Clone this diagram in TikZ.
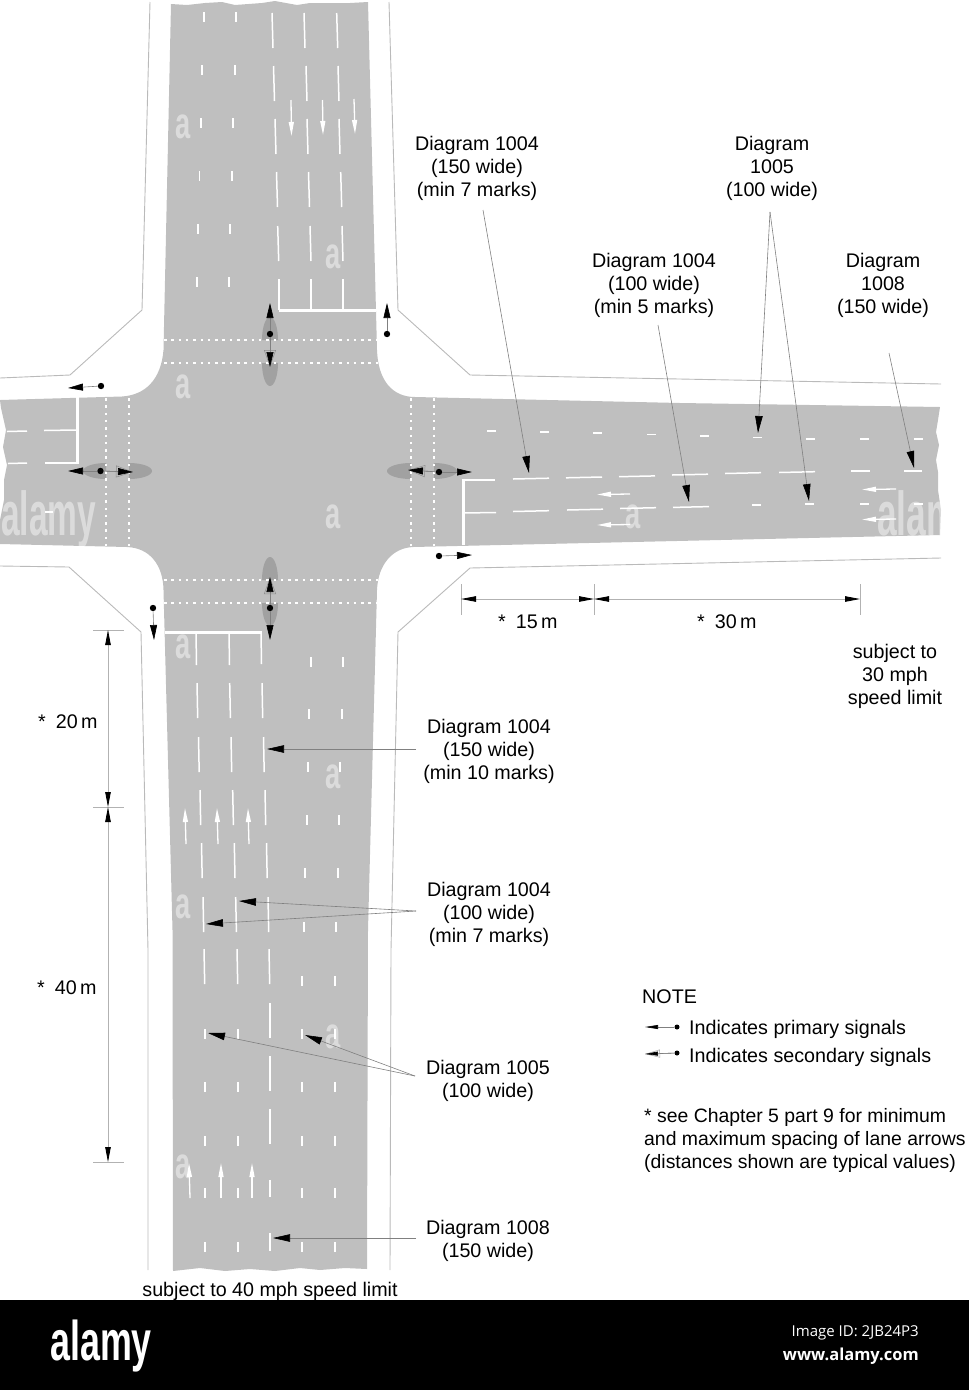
\documentclass[tikz,border=0pt]{standalone}
\usepackage{fontspec}
\setmainfont{Liberation Sans}
\newfontfamily\bandfont{Open Sans}
\usetikzlibrary{arrows.meta}

\newcommand{\ghostword}[3]{\scalebox{#2}[1]{\fontsize{#1}{#1}\selectfont\bfseries #3}}

\begin{document}
\begin{tikzpicture}[x=1pt,y=-1pt,
		every node/.style={inner sep=0pt,font=\fontsize{19.7}{23}\selectfont,align=center},
		road/.style={fill=black!25},
		island/.style={fill=black!37},
		kerb/.style={draw=black!27,line width=0.9pt},
		stopline/.style={draw=white,line width=3pt},
		lane/.style={draw=white,line width=1.5pt},
		lane short/.style={draw=white,line width=1.2pt},
		crossing/.style={draw=white,line width=2.5pt,dash pattern=on 2.5pt off 4.8pt},
		lane arrow/.style={draw=white,line width=1.3pt,-{Triangle[white,length=14pt,width=5pt]}},
		ghost/.style={text=white,text opacity=0.45},
		sigdot/.style={circle,fill=black,minimum size=6.4pt},
		signal/.style={draw=black!50,line width=0.6pt,-{Triangle[black,length=15pt,width=7pt]}},
		secondary/.style={signal,preaction={draw=black!50,line width=0.6pt,-{Triangle[open,black!45,line width=0.5pt,length=17pt,width=12pt]}}},
		key signal/.style={draw=black!50,line width=0.6pt,-{Triangle[black,length=13pt,width=4pt]}},
		key secondary/.style={key signal,preaction={draw=black!50,line width=0.6pt,-{Triangle[open,black!35,line width=0.5pt,length=15pt,width=8pt]}}},
		leader/.style={draw=black!50,line width=0.6pt,-{Triangle[black,length=17pt,width=7.5pt]}},
		dimline/.style={draw=black!30,line width=0.8pt,{Triangle[black,length=15pt,width=5.5pt]}-{Triangle[black,length=15pt,width=5.5pt]}},
		dimend/.style={draw=black!30,line width=0.7pt}]
	\useasboundingbox (0,0) rectangle (969,1390);

	% road surface with torn ends
	\path[road] (171,4) -- (187,5) -- (205,3) -- (222,2) -- (235,5) -- (262,3) -- (275,1) -- (297,5) -- (310,3) -- (350,3) -- (368,2)
		-- (377,350) .. controls (378,380) and (392,397) .. (415,397)
		-- (680,403) -- (940,407) -- (938,420) -- (936,432) -- (939,445) -- (936,460) -- (938,472) -- (938,490) -- (941,510) -- (940,535)
		-- (413,547) .. controls (392,548) and (378,565) .. (377,590)
		-- (368,930) -- (367,1269) -- (345,1268) -- (320,1270) -- (300,1268) -- (275,1271) -- (250,1269) -- (225,1271) -- (200,1268) -- (173,1271)
		-- (172.5,930) -- (163.5,590) .. controls (163,565) and (150,548) .. (127,547)
		-- (0,544) -- (0,520) -- (4,500) -- (4,480) -- (7,465) -- (3,447) -- (6,430) -- (1,408) -- (0,400)
		-- (122,396.5) .. controls (145,395) and (161,380) .. (163.5,350) -- cycle;

	% kerb lines
	\draw[kerb] (150,2) -- (142,310) -- (70,375) -- (0,378);
	\draw[kerb] (389,2) -- (398,310) -- (470,375) -- (941,384);
	\draw[kerb] (0,566) -- (69,567) -- (141,632) -- (148,950) -- (148,1270);
	\draw[kerb] (941,558) -- (470,568) -- (398,632) -- (391,950) -- (390,1270);

	% stock image marks over the road
	\foreach \gx/\gy in {183/127,333/257,183/387,333/517,183/647,333/777,183/907,333/1037,183/1167,633/517}
		\node[ghost] (ghost\gx-\gy) at (\gx,\gy) {\ghostword{44}{.62}{a}};
	\node[ghost,anchor=base west] (ghost west) at (1,535) {\ghostword{62}{.54}{alamy}};
	\node[ghost,anchor=base west] (ghost east) at (877,535) {\ghostword{62}{.57}{alam}};

	% islands
	\fill[island] (262,340) arc[start angle=180,end angle=360,x radius=8,y radius=23] -- cycle;
	\fill[island] (262,363) arc[start angle=180,end angle=0,x radius=8,y radius=23] -- cycle;
	\fill[island] (262,580) arc[start angle=180,end angle=360,x radius=8,y radius=23] -- cycle;
	\fill[island] (262,603) arc[start angle=180,end angle=0,x radius=8,y radius=23] -- cycle;
	\fill[island] (106,479) arc[start angle=90,end angle=270,x radius=23,y radius=8] -- cycle;
	\fill[island] (129,479) arc[start angle=90,end angle=-90,x radius=23,y radius=8] -- cycle;
	\fill[island] (411,479) arc[start angle=90,end angle=270,x radius=24,y radius=8] -- cycle;
	\fill[island] (434,479) arc[start angle=90,end angle=-90,x radius=23,y radius=8] -- cycle;

	% crossings
	\draw[crossing] (164,340) -- (378,340);
	\draw[crossing] (164,363) -- (378,363);
	\draw[crossing] (164,580) -- (378,580);
	\draw[crossing] (164,603) -- (378,603);
	\draw[crossing] (106,398) -- (106,546);
	\draw[crossing] (129,398) -- (129,546);
	\draw[crossing] (411,398) -- (411,546);
	\draw[crossing] (434,398) -- (434,546);

	% stop lines
	\draw[stopline] (279,310) -- (376,310);
	\draw[stopline] (165,632) -- (262,632);
	\draw[stopline] (77,397) -- (77,464);
	\draw[stopline] (463,478.5) -- (463,545);

	% north arm
	\foreach \ya/\xa/\xb/\xc in {13/272/304/336.7,66/273.5/306/338,119/275/307/339,172/276.5/308.5/340.7,226/277.7/310/342}{
		\draw[lane] (\xa,\ya) -- ++(1,35);
		\draw[lane] (\xb,\ya) -- ++(1,35);
		\draw[lane] (\xc,\ya) -- ++(1,35);
	}
	\draw[lane] (279,279) -- (279,310);
	\draw[lane] (311,279) -- (311,310);
	\draw[lane] (343,279) -- (343,310);
	\foreach \ya/\xa/\xb in {12/204/236,65/202/235,118/201/233,171/199.6/232,224/198/230,277/197/229}{
		\draw[lane short] (\xa,\ya) -- ++(0,9.5);
		\draw[lane short] (\xb,\ya) -- ++(0,9.5);
	}
	\draw[lane arrow] (291,100) -- (291.5,136);
	\draw[lane arrow] (322.5,100) -- (323,135);
	\draw[lane arrow] (354,99) -- (355,134);

	% south arm
	\draw[lane] (261,632) -- (261.5,664);
	\draw[lane] (196,632) -- (196.5,665);
	\draw[lane] (229,632) -- (229.5,665);
	\foreach \ya/\xa/\xb/\xc in {683/197/229.7/262,737/198.5/231/263.5,790/200/232.7/265,843/201.5/234.3/266.5,897/203/235.7/268,949/204/237/269}{
		\draw[lane] (\xa,\ya) -- ++(0.7,35);
		\draw[lane] (\xb,\ya) -- ++(0.7,35);
		\draw[lane] (\xc,\ya) -- ++(0.7,35);
	}
	\foreach \ya in {1003,1056,1109}
		\draw[lane] (270,\ya) -- ++(0,35);
	\draw[lane] (270,1180) -- ++(0,17);
	\draw[lane] (270,1233) -- ++(0,18);
	\foreach \ya/\xa/\xb in {657/311/343,709/309/342,762/308/340,815/307/339,868/305/338,922/304/336,976/302/335,1029/302/335,1082/302/335,1136/302/335,1188/302/335,1242/302/335}{
		\draw[lane short] (\xa,\ya) -- ++(0,9.5);
		\draw[lane short] (\xb,\ya) -- ++(0,9.5);
	}
	\foreach \ya in {1029,1082,1136,1188,1242}{
		\draw[lane short] (205,\ya) -- ++(0,9.5);
		\draw[lane short] (238,\ya) -- ++(0,9.5);
	}
	\draw[lane arrow] (186,844) -- (185,808);
	\draw[lane arrow] (218,844) -- (217,808);
	\draw[lane arrow] (249,844) -- (248,808);
	\draw[lane arrow] (190,1198) -- (189,1163);
	\draw[lane arrow] (221,1198) -- (221,1163);
	\draw[lane arrow] (252,1198) -- (252,1163);

	% west arm
	\draw[lane] (44,430.5) -- (76,430);
	\draw[lane] (7,431.5) -- (27,431);
	\draw[lane] (8,463.5) -- (27,463);
	\draw[lane] (45,463) -- (77,463);
	\draw[lane short] (45,512) -- (53,512);

	% east arm
	\draw[lane] (463,480) -- (495,480);
	\draw[lane] (463,513) -- (496,512.5);
	\foreach \xa/\ya in {513/479,566/477.8,619/476.7,672/475,725/473.5,779/472.5}
		\draw[lane] (\xa,\ya) -- ++(36,-0.8);
	\foreach \xa/\ya in {513/511.5,567/510,620/508.5,673/507.4}
		\draw[lane] (\xa,\ya) -- ++(36,-0.8);
	\draw[lane] (851,471) -- ++(19,0);
	\draw[lane] (904,471) -- ++(18,0);
	\foreach \xa/\ya in {487/431,540/432,593/433,647/434.5,700/436,753/437.5,806/439,860/439,914/439}
		\draw[lane short] (\xa,\ya) -- ++(9,0);
	\foreach \xa/\ya in {752/505,805/504,860/504,914/504}
		\draw[lane short] (\xa,\ya) -- ++(9,0);
	\draw[lane arrow] (630,494) -- (597,494.5);
	\draw[lane arrow] (630,524.5) -- (597,525);
	\draw[lane arrow] (896,489) -- (862,489.5);
	\draw[lane arrow] (896,519) -- (862,519.5);

	% signals
	\node[sigdot] (sig north) at (270,334) {};
	\coordinate (sig north up) at (270,303);
	\coordinate (sig north down) at (270,367);
	\draw[signal] (sig north) -- (sig north up);
	\draw[secondary] (sig north) -- (sig north down);
	\node[sigdot] (sig north kerb) at (387,334) {};
	\coordinate (sig north kerb up) at (387,303);
	\draw[signal] (sig north kerb) -- (sig north kerb up);

	\node[sigdot] (sig south) at (270,608) {};
	\coordinate (sig south up) at (270,577);
	\coordinate (sig south down) at (270,640);
	\draw[signal] (sig south) -- (sig south down);
	\draw[secondary] (sig south) -- (sig south up);
	\node[sigdot] (sig south kerb) at (153,608) {};
	\coordinate (sig south kerb down) at (154,640);
	\draw[signal] (sig south kerb) -- (sig south kerb down);

	\node[sigdot] (sig west) at (100.5,471) {};
	\coordinate (sig west left) at (68,471);
	\coordinate (sig west right) at (133,472);
	\draw[signal] (sig west) -- (sig west left);
	\draw[secondary] (sig west) -- (sig west right);
	\node[sigdot] (sig west kerb) at (101,386) {};
	\coordinate (sig west kerb left) at (68,388);
	\draw[signal] (sig west kerb) -- (sig west kerb left);

	\node[sigdot] (sig east) at (439,472) {};
	\coordinate (sig east right) at (472,472);
	\coordinate (sig east left) at (408,470);
	\draw[signal] (sig east) -- (sig east right);
	\draw[secondary] (sig east) -- (sig east left);
	\node[sigdot] (sig east kerb) at (439,556) {};
	\coordinate (sig east kerb right) at (472,555);
	\draw[signal] (sig east kerb) -- (sig east kerb right);

	% labels
	\node (lbl a) at (477,168) {Diagram 1004\\(150 wide)\\(min 7 marks)};
	\node (lbl b) at (772,168) {Diagram\\1005\\(100 wide)};
	\node (lbl c) at (654,285) {Diagram 1004\\(100 wide)\\(min 5 marks)};
	\node (lbl d) at (883,285) {Diagram\\1008\\(150 wide)};
	\node (lbl e) at (489,751) {Diagram 1004\\(150 wide)\\(min 10 marks)};
	\node (lbl f) at (489,914) {Diagram 1004\\(100 wide)\\(min 7 marks)};
	\node (lbl g) at (488,1081) {Diagram 1005\\(100 wide)};
	\node (lbl h) at (488,1241) {Diagram 1008\\(150 wide)};
	\node (lbl speed east) at (895,676) {subject to\\30 mph\\speed limit};
	\node (lbl speed south) at (270,1291) {subject to 40 mph speed limit};

	% leaders
	\coordinate (from a) at (483,210);
	\coordinate (tip a) at (529,473);
	\draw[leader] (from a) -- (tip a);
	\coordinate (from b) at (770,212);
	\coordinate (tip b1) at (758,433);
	\coordinate (tip b2) at (809,501);
	\draw[leader] (from b) -- (tip b1);
	\draw[leader] (from b) -- (tip b2);
	\coordinate (from c) at (658,325);
	\coordinate (tip c) at (689,502);
	\draw[leader] (from c) -- (tip c);
	\coordinate (from d) at (889,353);
	\coordinate (tip d) at (914,468);
	\draw[leader] (from d) -- (tip d);
	\coordinate (from e) at (416,749);
	\coordinate (tip e) at (267,749);
	\draw[leader] (from e) -- (tip e);
	\coordinate (from f) at (416,911);
	\coordinate (tip f1) at (239,901);
	\coordinate (tip f2) at (206,924);
	\draw[leader] (from f) -- (tip f1);
	\draw[leader] (from f) -- (tip f2);
	\coordinate (from g) at (415,1076);
	\coordinate (tip g1) at (208,1033);
	\coordinate (tip g2) at (305,1035);
	\draw[leader] (from g) -- (tip g1);
	\draw[leader] (from g) -- (tip g2);
	\coordinate (from h) at (416,1238);
	\coordinate (tip h) at (273,1238);
	\draw[leader] (from h) -- (tip h);

	% dimensions
	\draw[dimend] (461,584) -- (461,615);
	\draw[dimend] (594,584) -- (594,615);
	\draw[dimend] (860,584) -- (860,615);
	\coordinate (dim a) at (461,599);
	\coordinate (dim b) at (594,599);
	\coordinate (dim c) at (860,599);
	\draw[dimline] (dim a) -- (dim b);
	\draw[dimline] (dim b) -- (dim c);
	\node[anchor=base west] (dim lbl 15) at (498,628) {*\hspace{10pt}15\,m};
	\node[anchor=base west] (dim lbl 30) at (697,628) {*\hspace{10pt}30\,m};

	\draw[dimend] (93,630) -- (124,630);
	\draw[dimend] (93,807) -- (124,807);
	\draw[dimend] (93,1162) -- (124,1162);
	\coordinate (dim d) at (108,630);
	\coordinate (dim e) at (108,807);
	\coordinate (dim f) at (108,1162);
	\draw[dimline] (dim d) -- (dim e);
	\draw[dimline] (dim e) -- (dim f);
	\node[anchor=base west] (dim lbl 20) at (38,728) {*\hspace{10pt}20\,m};
	\node[anchor=base west] (dim lbl 40) at (37,994) {*\hspace{10pt}40\,m};

	% note
	\node[anchor=base west] (note head) at (642,1003) {NOTE};
	\node[anchor=base west] (note a) at (689,1034) {Indicates primary signals};
	\node[anchor=base west] (note b) at (689,1062) {Indicates secondary signals};
	\node[sigdot,minimum size=5pt] (key a) at (677,1027) {};
	\node[sigdot,minimum size=5pt] (key b) at (677,1053) {};
	\coordinate (key a tip) at (645,1027);
	\coordinate (key b tip) at (645,1054);
	\draw[key signal] (key a) -- (key a tip);
	\draw[key secondary] (key b) -- (key b tip);
	\node[anchor=west,align=left,font=\fontsize{19.4}{23}\selectfont] (note star) at (644,1140) {* see Chapter 5 part 9 for minimum\\and maximum spacing of lane arrows\\(distances shown are typical values)};

	% black band
	\fill[black] (0,1300) rectangle (969,1390);
	\node[text=white,anchor=base west] (band logo) at (50,1360) {\ghostword{56}{.64}{alamy}};
	\node[text=white,anchor=east,font=\bandfont\fontsize{15}{15}\selectfont] (band id) at (919,1333) {Image ID: 2JB24P3};
	\node[text=white,anchor=east,font=\bandfont\bfseries\fontsize{16.5}{15}\selectfont] (band url) at (919,1356) {www.alamy.com};
\end{tikzpicture}
\end{document}
